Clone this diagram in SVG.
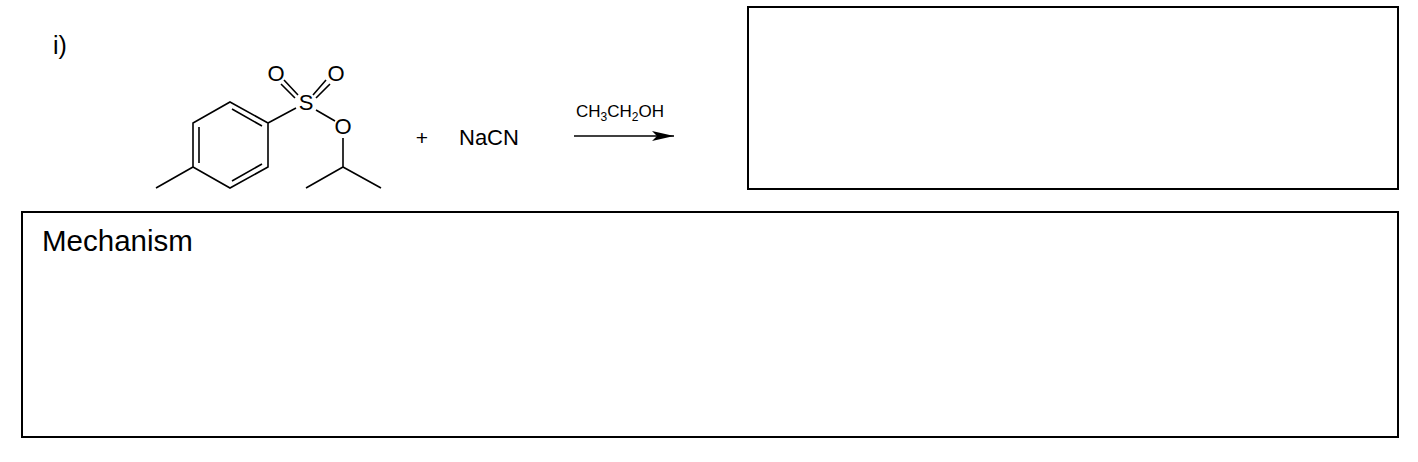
<svg xmlns="http://www.w3.org/2000/svg" width="1418" height="462" viewBox="0 0 1418 462">
<style>
.b{stroke:#000;stroke-width:1.6;fill:none}
.t{font-family:"Liberation Sans",Arial,sans-serif;fill:#000}
.box{fill:none;stroke:#000;stroke-width:2}
</style>
<defs><marker id="ah" markerWidth="22" markerHeight="10" refX="22" refY="5" orient="auto" markerUnits="userSpaceOnUse"><path d="M0,0L22,5L0,10L5,5Z" fill="#000"/></marker></defs>
<rect width="1418" height="462" fill="#fff"/>
<text class="t" x="53" y="54" font-size="25">i)</text>
<g id="tosylate">
<path class="b" d="M230,102L268,123L268,167L230,188L193,167L193,123Z"/>
<path class="b" d="M199,127L199,163M232,109L262,126M232,181L262,164"/>
<path class="b" d="M193,167L156,188M268,123L296,108M316,110L335,121M343,138L343,167L306,188M343,167L381,188"/>
<path class="b" d="M284,80L298,95M281,84L295,98M326,80L313,95M330,84L316,98"/>
<text class="t" x="306" y="110" font-size="22" text-anchor="middle">S</text>
<text class="t" x="276" y="81" font-size="22" text-anchor="middle">O</text>
<text class="t" x="336" y="81" font-size="22" text-anchor="middle">O</text>
<text class="t" x="343" y="134" font-size="22" text-anchor="middle">O</text>
</g>
<g id="reagents">
<text class="t" x="422" y="145" font-size="21" text-anchor="middle">+</text>
<text class="t" x="459" y="145" font-size="22">NaCN</text>
<text class="t" x="576" y="117" font-size="17">CH<tspan font-size="12" dy="4">3</tspan><tspan dy="-4">CH</tspan><tspan font-size="12" dy="4">2</tspan><tspan dy="-4">OH</tspan></text>
</g>
<g id="connectors"><line class="b" x1="574" y1="136" x2="674" y2="136" marker-end="url(#ah)"/></g>
<g id="product"><rect class="box" x="748" y="7" width="650" height="182"/></g>
<g id="mechanism"><rect class="box" x="22" y="212" width="1376" height="225"/>
<text class="t" x="42" y="251" font-size="29.5">Mechanism</text></g>
</svg>
